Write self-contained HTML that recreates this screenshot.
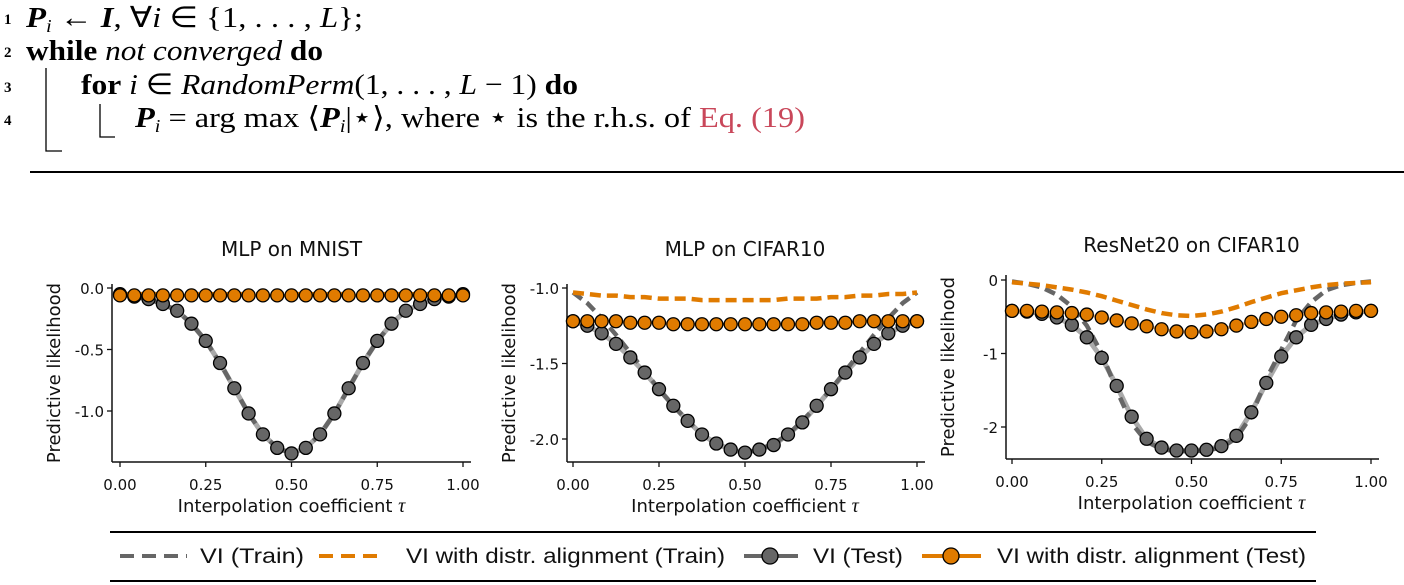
<!DOCTYPE html>
<html><head><meta charset="utf-8"><style>
body{margin:0;background:#fff;width:1404px;height:585px;overflow:hidden}
svg{display:block}
.alg{font-family:"Liberation Serif",serif;font-size:29px;fill:#000}
.ln{font-family:"Liberation Serif",serif;font-size:15px;font-weight:bold}
.tk{font-family:"DejaVu Sans",sans-serif;font-size:15px;fill:#111}
.ttl{font-family:"DejaVu Sans",sans-serif;font-size:20px;fill:#111}
.lab{font-family:"DejaVu Sans",sans-serif;font-size:18px;fill:#111}
.leg{font-family:"Liberation Sans",sans-serif;font-size:21px;fill:#111}
</style></head><body>
<svg id="fig" width="1404" height="585">
<g>
<text class="ln" x="4" y="24">1</text>
<text class="alg" x="26" y="27" textLength="337" lengthAdjust="spacingAndGlyphs"><tspan font-weight="bold" font-style="italic">P</tspan><tspan font-style="italic" font-size="18" dy="5">i</tspan><tspan dy="-5"> ← </tspan><tspan font-weight="bold" font-style="italic">I</tspan>, ∀<tspan font-style="italic">i</tspan> ∈ {1, . . . , <tspan font-style="italic">L</tspan>};</text>
<text class="ln" x="4" y="57">2</text>
<text class="alg" x="26" y="60" textLength="297" lengthAdjust="spacingAndGlyphs"><tspan font-weight="bold">while</tspan> <tspan font-style="italic">not converged</tspan> <tspan font-weight="bold">do</tspan></text>
<text class="ln" x="4" y="92">3</text>
<text class="alg" x="81" y="94" textLength="497" lengthAdjust="spacingAndGlyphs"><tspan font-weight="bold">for</tspan> <tspan font-style="italic">i</tspan> ∈ <tspan font-style="italic">RandomPerm</tspan>(1, . . . , <tspan font-style="italic">L</tspan> − 1) <tspan font-weight="bold">do</tspan></text>
<text class="ln" x="4" y="125">4</text>
<text class="alg" x="135" y="127" textLength="670" lengthAdjust="spacingAndGlyphs"><tspan font-weight="bold" font-style="italic">P</tspan><tspan font-style="italic" font-size="18" dy="5">i</tspan><tspan dy="-5"> = arg max ⟨</tspan><tspan font-weight="bold" font-style="italic">P</tspan><tspan font-style="italic" font-size="18" dy="5">i</tspan><tspan dy="-5">|⋆⟩, where ⋆ is the r.h.s. of </tspan><tspan fill="#c9475a">Eq. (19)</tspan></text>
<path d="M46 68V151H62M100 104V137H115" stroke="#000" stroke-width="1.3" fill="none"/>
<line x1="30" y1="172" x2="1404" y2="172" stroke="#000" stroke-width="2"/>
</g>
<g id="charts"></g>
<g>
<line x1="110" y1="532" x2="1316" y2="532" stroke="#000" stroke-width="2"/>
<line x1="110" y1="581" x2="1316" y2="581" stroke="#000" stroke-width="2"/>
<line x1="120" y1="556" x2="187" y2="556" stroke="#666" stroke-width="4" stroke-dasharray="14,8"/>
<text class="leg" x="200" y="563" textLength="104" lengthAdjust="spacingAndGlyphs">VI (Train)</text>
<line x1="319" y1="556" x2="377" y2="556" stroke="#e07b00" stroke-width="4" stroke-dasharray="14,8"/>
<text class="leg" x="406" y="563" textLength="319" lengthAdjust="spacingAndGlyphs">VI with distr. alignment (Train)</text>
<line x1="744" y1="556" x2="798" y2="556" stroke="#666" stroke-width="4"/>
<circle cx="770" cy="556" r="8" fill="#666" stroke="#000" stroke-width="1.3"/>
<text class="leg" x="813" y="563" textLength="90" lengthAdjust="spacingAndGlyphs">VI (Test)</text>
<line x1="922" y1="556" x2="981" y2="556" stroke="#e07b00" stroke-width="4"/>
<circle cx="951" cy="556" r="8" fill="#e07b00" stroke="#000" stroke-width="1.3"/>
<text class="leg" x="997" y="563" textLength="309" lengthAdjust="spacingAndGlyphs">VI with distr. alignment (Test)</text>
</g>
</svg>
<script>
const taus = Array.from({length:25},(_,i)=>i/24);
const c1Titles = "MLP on MNIST";
const c1Ticks = [0.0,-0.5,-1.0];
const c1TickLabels = ["0.0","-0.5","-1.0"];
const c1Test = [-0.05,-0.07,-0.09,-0.13,-0.185,-0.29,-0.43,-0.61,-0.815,-1.02,-1.19,-1.30,-1.345,-1.30,-1.19,-1.02,-0.815,-0.61,-0.43,-0.29,-0.185,-0.13,-0.09,-0.07,-0.05];
const c1Train = [-0.05,-0.07,-0.09,-0.13,-0.185,-0.29,-0.43,-0.61,-0.815,-1.02,-1.19,-1.30,-1.345,-1.30,-1.19,-1.02,-0.815,-0.61,-0.43,-0.29,-0.185,-0.13,-0.09,-0.07,-0.05];
const c1AlTest = [-0.06,-0.06,-0.06,-0.06,-0.06,-0.06,-0.06,-0.06,-0.06,-0.06,-0.06,-0.06,-0.06,-0.06,-0.06,-0.06,-0.06,-0.06,-0.06,-0.06,-0.06,-0.06,-0.06,-0.06,-0.06];
const c1AlTrain = [-0.05,-0.05,-0.05,-0.05,-0.05,-0.05,-0.05,-0.05,-0.05,-0.05,-0.05,-0.05,-0.05,-0.05,-0.05,-0.05,-0.05,-0.05,-0.05,-0.05,-0.05,-0.05,-0.05,-0.05,-0.05];

const c2Ticks = [-1.0,-1.5,-2.0];
const c2TickLabels = ["-1.0","-1.5","-2.0"];
const c2Test = [-1.22,-1.25,-1.30,-1.37,-1.46,-1.56,-1.67,-1.78,-1.88,-1.97,-2.03,-2.07,-2.09,-2.07,-2.04,-1.97,-1.89,-1.78,-1.67,-1.56,-1.46,-1.37,-1.30,-1.25,-1.22];
const c2Train = [-1.03,-1.10,-1.20,-1.31,-1.43,-1.55,-1.67,-1.78,-1.88,-1.97,-2.03,-2.07,-2.09,-2.07,-2.03,-1.97,-1.88,-1.78,-1.67,-1.55,-1.43,-1.31,-1.20,-1.10,-1.03];
const c2AlTest = [-1.22,-1.22,-1.22,-1.22,-1.23,-1.23,-1.23,-1.24,-1.24,-1.24,-1.24,-1.24,-1.24,-1.24,-1.24,-1.24,-1.24,-1.23,-1.23,-1.23,-1.22,-1.22,-1.22,-1.22,-1.22];
const c2AlTrain = [-1.03,-1.04,-1.05,-1.05,-1.06,-1.06,-1.07,-1.07,-1.07,-1.08,-1.08,-1.08,-1.08,-1.08,-1.08,-1.07,-1.07,-1.07,-1.06,-1.06,-1.05,-1.05,-1.04,-1.04,-1.03];

const c3Ticks = [0,-1,-2];
const c3TickLabels = ["0","-1","-2"];
const c3Test = [-0.42,-0.43,-0.46,-0.51,-0.61,-0.78,-1.06,-1.44,-1.86,-2.16,-2.28,-2.32,-2.32,-2.31,-2.26,-2.12,-1.80,-1.40,-1.04,-0.78,-0.61,-0.53,-0.47,-0.44,-0.42];
const c3Train = [-0.02,-0.05,-0.10,-0.20,-0.36,-0.62,-1.00,-1.50,-1.95,-2.20,-2.30,-2.33,-2.33,-2.32,-2.28,-2.15,-1.85,-1.35,-0.95,-0.55,-0.30,-0.14,-0.07,-0.04,-0.02];
const c3AlTest = [-0.42,-0.42,-0.43,-0.44,-0.45,-0.47,-0.51,-0.55,-0.59,-0.63,-0.67,-0.70,-0.71,-0.70,-0.67,-0.62,-0.57,-0.53,-0.50,-0.48,-0.45,-0.44,-0.43,-0.42,-0.42];
const c3AlTrain = [-0.03,-0.05,-0.07,-0.10,-0.13,-0.17,-0.22,-0.28,-0.34,-0.40,-0.45,-0.48,-0.49,-0.47,-0.43,-0.37,-0.30,-0.24,-0.18,-0.14,-0.10,-0.07,-0.05,-0.04,-0.03];

const xTicks = [0,0.25,0.5,0.75,1];
const xTickLabels = ["0.00","0.25","0.50","0.75","1.00"];

const NS="http://www.w3.org/2000/svg";
const root=document.getElementById('charts');
function mk(tag,attrs,parent){const e=document.createElementNS(NS,tag);for(const k in attrs)e.setAttribute(k,attrs[k]);parent.appendChild(e);return e;}

function chart(cfg){
  const g=mk('g',{},root);
  
  
  const X=v=>cfg.x0+(cfg.x1-cfg.x0)*v;
  const Y=v=>cfg.y0+(cfg.yv0-v)*cfg.ppu;
  mk('line',{x1:cfg.sx,y1:cfg.st,x2:cfg.sx,y2:cfg.sb,stroke:'#111','stroke-width':1.5},g);
  mk('line',{x1:cfg.sx,y1:cfg.sb,x2:cfg.x1+8,y2:cfg.sb,stroke:'#111','stroke-width':1.5},g);
  cfg.yt.forEach((v,i)=>{
    mk('line',{x1:cfg.sx-5,y1:Y(v),x2:cfg.sx,y2:Y(v),stroke:'#111','stroke-width':1.3},g);
    const t=mk('text',{class:'tk',x:cfg.sx-8,y:Y(v)+6,'text-anchor':'end'},g);t.textContent=cfg.ytl[i];
    
    
  });
  xTicks.forEach((v,i)=>{
    mk('line',{x1:X(v),y1:cfg.sb,x2:X(v),y2:cfg.sb+5,stroke:'#111','stroke-width':1.3},g);
    const t=mk('text',{class:'tk',x:X(v),y:cfg.sb+28,'text-anchor':'middle'},g);t.textContent=xTickLabels[i];
    
    
  });
  const tt=mk('text',{class:'ttl',x:(cfg.x0+cfg.x1)/2,y:cfg.ty,'text-anchor':'middle'},g);tt.textContent=cfg.title;
  
  
  const xl=mk('text',{class:'lab',x:(cfg.x0+cfg.x1)/2,y:cfg.sb+50,'text-anchor':'middle'},g);
  xl.innerHTML='Interpolation coefficient <tspan font-family="Liberation Serif" font-style="italic" font-size="20">τ</tspan>';
  
  
  const yc=(cfg.st+cfg.sb)/2;
  const yl=mk('text',{class:'lab',x:0,y:0,'text-anchor':'middle',transform:`translate(${cfg.sx-52},${yc}) rotate(-90)`},g);
  yl.textContent='Predictive likelihood';
  
  
  const pts=a=>a.map((v,i)=>X(taus[i]).toFixed(1)+','+Y(v).toFixed(1)).join(' ');
  let p;
  p=mk('polyline',{points:pts(cfg.test),fill:'none',stroke:'#aaa','stroke-width':5},g);
  
  
  p=mk('polyline',{points:pts(cfg.alTest),fill:'none',stroke:'#f2b878','stroke-width':3},g);
  
  
  p=mk('polyline',{points:pts(cfg.train),fill:'none',stroke:'#666','stroke-width':4.5,'stroke-dasharray':'11,6'},g);
  
  
  p=mk('polyline',{points:pts(cfg.alTrain),fill:'none',stroke:'#e07b00','stroke-width':4.5,'stroke-dasharray':'11,6'},g);
  
  
  cfg.test.forEach((v,i)=>{
    const c=mk('circle',{cx:X(taus[i]),cy:Y(v),r:6.5,fill:'#666',stroke:'#000','stroke-width':1.3},g);
    
    
  });
  cfg.alTest.forEach((v,i)=>{
    const c=mk('circle',{cx:X(taus[i]),cy:Y(v),r:6.5,fill:'#e07b00',stroke:'#000','stroke-width':1.3},g);
    
    
  });
}
chart({name:'chart-mlp-mnist',title:c1Titles,x0:120,x1:463,yv0:0,y0:288,ppu:123,sx:112,st:284,sb:462,ty:256,yt:c1Ticks,ytl:c1TickLabels,test:c1Test,train:c1Train,alTest:c1AlTest,alTrain:c1AlTrain});
chart({name:'chart-mlp-cifar10',title:'MLP on CIFAR10',x0:573,x1:917,yv0:-1,y0:288,ppu:151,sx:567,st:284,sb:462,ty:256,yt:c2Ticks,ytl:c2TickLabels,test:c2Test,train:c2Train,alTest:c2AlTest,alTrain:c2AlTrain});
chart({name:'chart-resnet20-cifar10',title:'ResNet20 on CIFAR10',x0:1012,x1:1371,yv0:0,y0:280,ppu:73.5,sx:1006,st:275,sb:459,ty:252,yt:c3Ticks,ytl:c3TickLabels,test:c3Test,train:c3Train,alTest:c3AlTest,alTrain:c3AlTrain});
</script>
</body></html>
